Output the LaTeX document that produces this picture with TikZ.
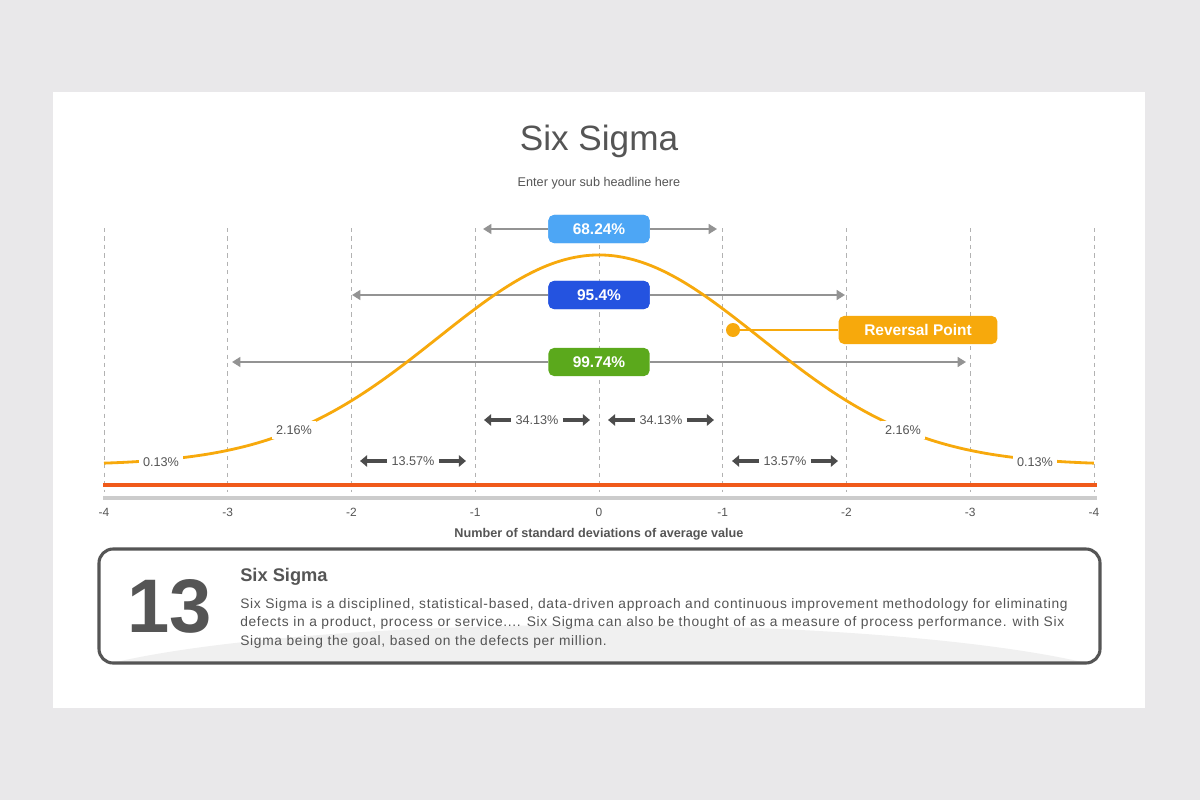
\documentclass[tikz,border=0pt]{standalone}
\usepackage{fontspec}
\setmainfont{Liberation Sans}
\usetikzlibrary{positioning,arrows.meta}
\definecolor{bgray}{HTML}{E9E8EA}
\definecolor{curve}{HTML}{F7A90C}
\definecolor{redline}{HTML}{F05A1A}
\definecolor{lblue}{HTML}{4DA6F5}
\definecolor{dblue}{HTML}{2453E0}
\definecolor{lgreen}{HTML}{5BA91C}
\definecolor{txt}{HTML}{555555}
\tikzset{
  pct/.style={rounded corners=4pt,minimum width=72pt,minimum height=20pt,text=white,font=\bfseries\fontsize{11}{12}\selectfont,inner sep=0pt},
  span/.style={draw=gray!85,line width=2pt,-{Triangle[length=6pt,width=7pt]}},
  small/.style={fill=white,text=txt,font=\fontsize{9}{10}\selectfont,inner sep=3pt},
  tick/.style={text=txt,font=\fontsize{8.5}{10}\selectfont},
  seg/.style={draw=txt!90!black,line width=2.6pt,-{Triangle[length=5pt,width=8pt]}}
}
\begin{document}
\begin{tikzpicture}[x=0.025cm,y=-0.025cm]
  \useasboundingbox (0,0) rectangle (1200,800);
  \fill[bgray] (0,0) rectangle (1200,800);
  \fill[white] (53,92) rectangle (1145,708);
  % titles
  \node[text=txt,font=\fontsize{25}{28}\selectfont] (title) at (599,141) {Six Sigma};
  \node[text=txt,font=\fontsize{9}{10}\selectfont] (sub) at (599,183) {Enter your sub headline here};
  % grid
  \foreach \i/\lab in {0/-4,1/-3,2/-2,3/-1,4/0,5/-1,6/-2,7/-3,8/-4} {
    \draw[gray!60,dashed,line width=0.5pt] (104+123.75*\i,228) -- (104+123.75*\i,492);
    \node[tick] (t\i) at (104+123.75*\i,512) {\lab};
  }
  \draw[gray!40,line width=2.5pt] (103,498) -- (1097,498);
  \draw[redline,line width=2.6pt] (103,485) -- (1097,485);
  \node[text=txt,font=\bfseries\fontsize{9}{10}\selectfont] (axis) at (599,534) {Number of standard deviations of average value};
  % spans
  \coordinate (a1) at (483,229); \coordinate (a2) at (717,229);
  \coordinate (b1) at (352,295); \coordinate (b2) at (845,295);
  \coordinate (c1) at (232,362); \coordinate (c2) at (966,362);
  \node[pct,fill=lblue] (s1) at (599,229) {68.24\%};
  \node[pct,fill=dblue] (s2) at (599,295) {95.4\%};
  \node[pct,fill=lgreen] (s3) at (599,362) {99.74\%};
  \draw[span] (s1.west) -- (a1); \draw[span] (s1.east) -- (a2);
  \draw[span] (s2.west) -- (b1); \draw[span] (s2.east) -- (b2);
  \draw[span] (s3.west) -- (c1); \draw[span] (s3.east) -- (c2);
  % curve
  \draw[curve,line width=2pt,domain=-4:4,samples=100,smooth]
    plot ({599+123.75*\x},{465-210*exp(-\x*\x/3.38)});
  \node[pct,fill=dblue] at (599,295) {95.4\%};
  \node[pct,fill=lblue] at (599,229) {68.24\%};
  \node[small] (p1) at (161,462) {0.13\%};
  \node[small] (p2) at (294,430) {2.16\%};
  \node[small] (p3) at (903,430) {2.16\%};
  \node[small] (p4) at (1035,462) {0.13\%};
  % reversal point
  \fill[curve] (733,330) circle (7);
  \coordinate (rev) at (733,330);
  \node[pct,fill=curve,minimum width=113pt] (revbox) at (918,330) {Reversal Point};
  \draw[curve,line width=2pt] (rev) -- (revbox.west);
  % segment labels
  \node[small] (m1) at (537,420) {34.13\%};
  \node[small] (m2) at (661,420) {34.13\%};
  \node[small] (m3) at (413,461) {13.57\%};
  \node[small] (m4) at (785,461) {13.57\%};
  \foreach \m in {m1,m2,m3,m4} {
    \draw[seg] (\m.west) -- ++(-27,0);
    \draw[seg] (\m.east) -- ++(27,0);
  }
  % info card
  \begin{scope}
    \clip[rounded corners=10pt] (99,549) rectangle (1100,663);
    \fill[gray!12] (599,700) ellipse (560 and 75);
  \end{scope}
  \draw[txt,line width=2.2pt,rounded corners=10pt] (99,549) rectangle (1100,663);
  \node[text=txt,font=\bfseries\fontsize{54}{54}\selectfont] (num) at (170,606) {13};
  \node[text=txt,font=\bfseries\fontsize{13}{14}\selectfont,anchor=west,inner sep=0pt] (head) at (240,577) {Six Sigma};
  \node[text=txt,font=\fontsize{9.8}{13.2}\selectfont\addfontfeatures{LetterSpace=5},anchor=north west,inner sep=0pt,align=left] (body) at (240,598)
    {Six Sigma is a disciplined, statistical-based, data-driven approach and continuous improvement methodology for eliminating\\
     defects in a product, process or service.... Six Sigma can also be thought of as a measure of process performance. with Six\\
     Sigma being the goal, based on the defects per million.};
\end{tikzpicture}
\end{document}
